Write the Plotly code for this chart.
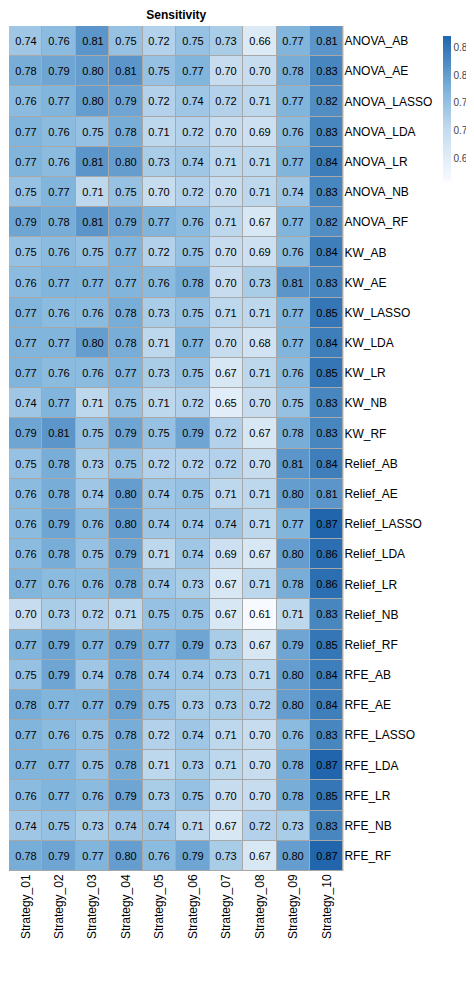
import plotly.graph_objects as go

rows = ["ANOVA_AB","ANOVA_AE","ANOVA_LASSO","ANOVA_LDA","ANOVA_LR","ANOVA_NB","ANOVA_RF",
        "KW_AB","KW_AE","KW_LASSO","KW_LDA","KW_LR","KW_NB","KW_RF",
        "Relief_AB","Relief_AE","Relief_LASSO","Relief_LDA","Relief_LR","Relief_NB","Relief_RF",
        "RFE_AB","RFE_AE","RFE_LASSO","RFE_LDA","RFE_LR","RFE_NB","RFE_RF"]
cols = ["Strategy_%02d" % i for i in range(1, 11)]
values = [
[0.74,0.76,0.81,0.75,0.72,0.75,0.73,0.66,0.77,0.81],
[0.78,0.79,0.80,0.81,0.75,0.77,0.70,0.70,0.78,0.83],
[0.76,0.77,0.80,0.79,0.72,0.74,0.72,0.71,0.77,0.82],
[0.77,0.76,0.75,0.78,0.71,0.72,0.70,0.69,0.76,0.83],
[0.77,0.76,0.81,0.80,0.73,0.74,0.71,0.71,0.77,0.84],
[0.75,0.77,0.71,0.75,0.70,0.72,0.70,0.71,0.74,0.83],
[0.79,0.78,0.81,0.79,0.77,0.76,0.71,0.67,0.77,0.82],
[0.75,0.76,0.75,0.77,0.72,0.75,0.70,0.69,0.76,0.84],
[0.76,0.77,0.77,0.77,0.76,0.78,0.70,0.73,0.81,0.83],
[0.77,0.76,0.76,0.78,0.73,0.75,0.71,0.71,0.77,0.85],
[0.77,0.77,0.80,0.78,0.71,0.77,0.70,0.68,0.77,0.84],
[0.77,0.76,0.76,0.77,0.73,0.75,0.67,0.71,0.76,0.85],
[0.74,0.77,0.71,0.75,0.71,0.72,0.65,0.70,0.75,0.83],
[0.79,0.81,0.75,0.79,0.75,0.79,0.72,0.67,0.78,0.83],
[0.75,0.78,0.73,0.75,0.72,0.72,0.72,0.70,0.81,0.84],
[0.76,0.78,0.74,0.80,0.74,0.75,0.71,0.71,0.80,0.81],
[0.76,0.79,0.76,0.80,0.74,0.74,0.74,0.71,0.77,0.87],
[0.76,0.78,0.75,0.79,0.71,0.74,0.69,0.67,0.80,0.86],
[0.77,0.76,0.76,0.78,0.74,0.73,0.67,0.71,0.78,0.86],
[0.70,0.73,0.72,0.71,0.75,0.75,0.67,0.61,0.71,0.83],
[0.77,0.79,0.77,0.79,0.77,0.79,0.73,0.67,0.79,0.85],
[0.75,0.79,0.74,0.78,0.74,0.74,0.73,0.71,0.80,0.84],
[0.78,0.77,0.77,0.79,0.75,0.73,0.73,0.72,0.80,0.84],
[0.77,0.76,0.75,0.78,0.72,0.74,0.71,0.70,0.76,0.83],
[0.77,0.77,0.75,0.78,0.71,0.73,0.71,0.70,0.78,0.87],
[0.76,0.77,0.76,0.79,0.73,0.75,0.70,0.70,0.78,0.85],
[0.74,0.75,0.73,0.74,0.74,0.71,0.67,0.72,0.73,0.83],
[0.78,0.79,0.77,0.80,0.76,0.79,0.73,0.67,0.80,0.87],
]
text = [["%.2f" % v for v in r] for r in values]

fig = go.Figure(go.Heatmap(
    z=values, x=cols, y=rows, text=text, texttemplate="%{text}",
    textfont=dict(size=11, color="black"),
    xgap=1, ygap=1, zmin=0.61, zmax=0.87,
    colorscale=[[0, "#f7fbff"], [0.35, "#c6dcef"], [0.6, "#86b8de"], [1, "#2166ac"]],
    colorbar=dict(thickness=8, len=165, lenmode="pixels", y=1, yanchor="top",
                  x=0.918, xanchor="left", xpad=0, outlinewidth=0,
                  tickvals=[0.65, 0.7, 0.75, 0.8, 0.85], ticktext=["0.65","0.7","0.75","0.8","0.85"],
                  tickfont=dict(size=10, color="#444"), ticks=""),
))
fig.update_layout(
    width=474, height=998, margin=dict(l=1, r=0, t=18, b=135),
    paper_bgcolor="white", plot_bgcolor="#a8a8a8",
    font=dict(family="Liberation Sans, Arial", size=12, color="black"),
    title=dict(text="<b>Sensitivity</b>", x=0.355, xanchor="center", y=0.997, yanchor="top",
               font=dict(size=12)),
    xaxis=dict(domain=[0, 0.707], tickangle=-90, showgrid=False, ticks="", tickfont=dict(size=12)),
    yaxis=dict(side="right", autorange="reversed", showgrid=False, ticks="", tickfont=dict(size=12)),
)
fig.write_html("out.html")
